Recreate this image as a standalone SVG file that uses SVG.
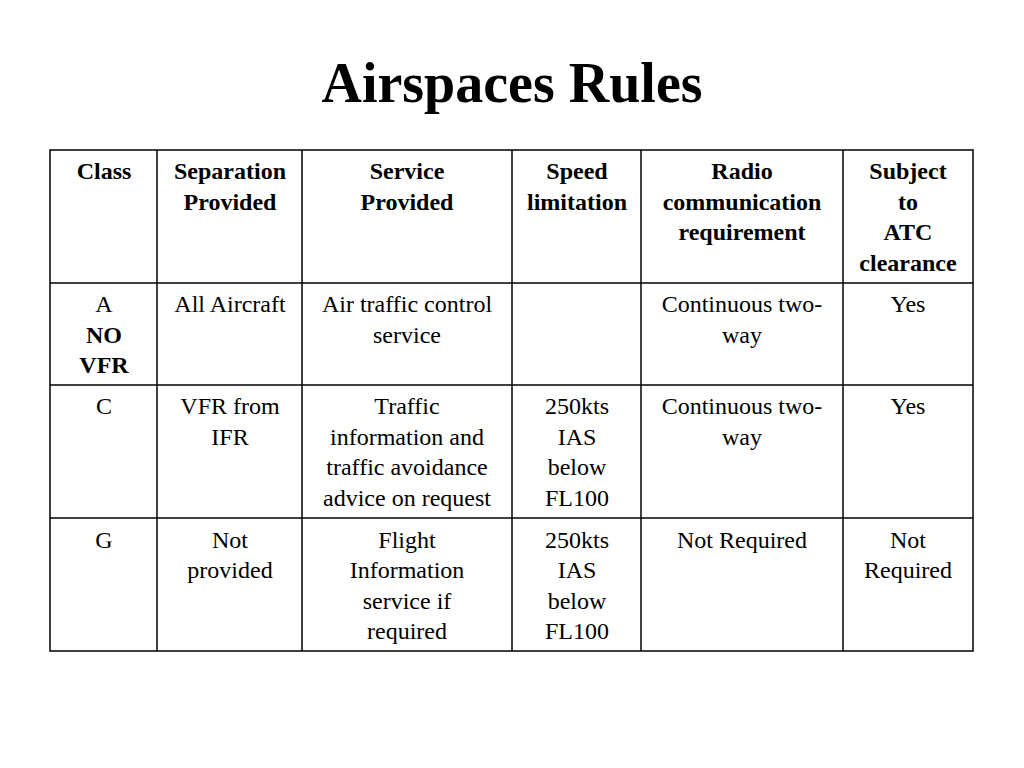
<svg xmlns="http://www.w3.org/2000/svg" width="1024" height="768" viewBox="0 0 1024 768">
<style>
text{font-family:"Liberation Serif","Times New Roman",serif;font-size:24px;fill:#000;text-anchor:middle}
.h{font-weight:bold}
.t{font-size:56px;font-weight:bold}
line{stroke:#000;stroke-width:1.5}
</style>
<rect width="1024" height="768" fill="#fff"/>
<text class="t" x="512" y="102">Airspaces Rules</text>
<g id="grid">
<rect x="50" y="150" width="923" height="501" fill="none" stroke="#000" stroke-width="1.5"/>
<line x1="157" y1="150" x2="157" y2="651"/>
<line x1="302" y1="150" x2="302" y2="651"/>
<line x1="512" y1="150" x2="512" y2="651"/>
<line x1="641" y1="150" x2="641" y2="651"/>
<line x1="843" y1="150" x2="843" y2="651"/>
<line x1="50" y1="283" x2="973" y2="283"/>
<line x1="50" y1="385" x2="973" y2="385"/>
<line x1="50" y1="518" x2="973" y2="518"/>
</g>
<g id="header" class="h">
<text class="h" x="104" y="179">Class</text>
<text class="h" x="230" y="179">Separation</text><text class="h" x="230" y="210">Provided</text>
<text class="h" x="407" y="179">Service</text><text class="h" x="407" y="210">Provided</text>
<text class="h" x="577" y="179">Speed</text><text class="h" x="577" y="210">limitation</text>
<text class="h" x="742" y="179">Radio</text><text class="h" x="742" y="210">communication</text><text class="h" x="742" y="240">requirement</text>
<text class="h" x="908" y="179">Subject</text><text class="h" x="908" y="210">to</text><text class="h" x="908" y="240">ATC</text><text class="h" x="908" y="271">clearance</text>
</g>
<g id="rowA">
<text x="104" y="312">A</text><text class="h" x="104" y="343">NO</text><text class="h" x="104" y="373">VFR</text>
<text x="230" y="312">All Aircraft</text>
<text x="407" y="312">Air traffic control</text><text x="407" y="343">service</text>
<text x="742" y="312">Continuous two-</text><text x="742" y="343">way</text>
<text x="908" y="312">Yes</text>
</g>
<g id="rowC">
<text x="104" y="414">C</text>
<text x="230" y="414">VFR from</text><text x="230" y="445">IFR</text>
<text x="407" y="414">Traffic</text><text x="407" y="445">information and</text><text x="407" y="475">traffic avoidance</text><text x="407" y="506">advice on request</text>
<text x="577" y="414">250kts</text><text x="577" y="445">IAS</text><text x="577" y="475">below</text><text x="577" y="506">FL100</text>
<text x="742" y="414">Continuous two-</text><text x="742" y="445">way</text>
<text x="908" y="414">Yes</text>
</g>
<g id="rowG">
<text x="104" y="548">G</text>
<text x="230" y="548">Not</text><text x="230" y="578">provided</text>
<text x="407" y="548">Flight</text><text x="407" y="578">Information</text><text x="407" y="609">service if</text><text x="407" y="639">required</text>
<text x="577" y="548">250kts</text><text x="577" y="578">IAS</text><text x="577" y="609">below</text><text x="577" y="639">FL100</text>
<text x="742" y="548">Not Required</text>
<text x="908" y="548">Not</text><text x="908" y="578">Required</text>
</g>
</svg>
